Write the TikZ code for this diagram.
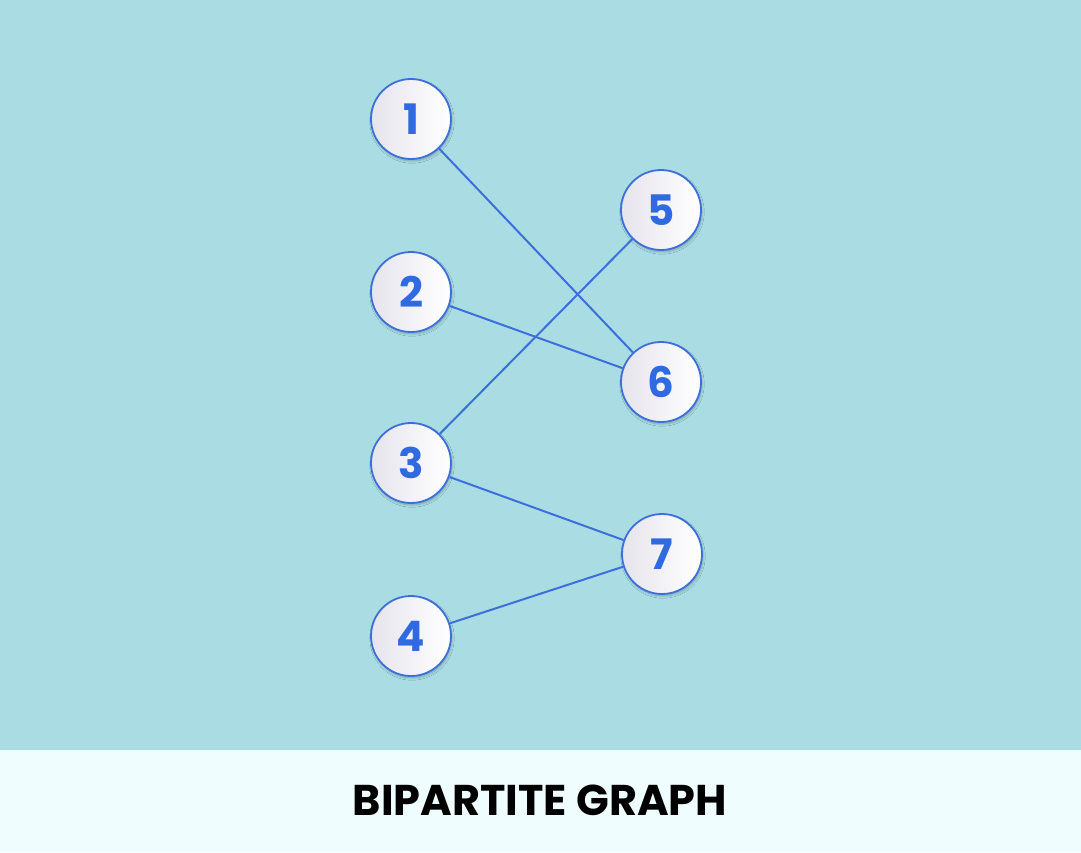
\documentclass[tikz,border=0pt]{standalone}
\usepackage{fontspec}
\setmainfont{Poppins}[BoldFont={* Bold}]
\usetikzlibrary{shadows.blur}
\definecolor{bgteal}{HTML}{AADCE3}
\definecolor{bandc}{HTML}{F0FDFE}
\definecolor{edgeblue}{HTML}{3D6FDC}
\definecolor{numblue}{HTML}{2F6AE0}
\definecolor{nodel}{HTML}{E6E4EC}
\tikzset{
  vert/.style={circle, minimum size=80pt, inner sep=0pt, draw=edgeblue, line width=1.8pt,
    left color=nodel, right color=white, text=numblue,
    font=\fontsize{42}{46}\selectfont\bfseries,
    blur shadow={shadow xshift=1pt, shadow yshift=-2pt, shadow blur steps=6, shadow opacity=25}},
  link/.style={draw=edgeblue, line width=2pt}
}
\begin{document}
\begin{tikzpicture}[x=1pt,y=-1pt]
\fill[bgteal] (0,0) rectangle (1081,750);
\fill[bandc] (0,750) rectangle (1081,852);
\useasboundingbox (0,0) rectangle (1081,852);
\node[vert] (n1) at (411,119) {1};
\node[vert] (n2) at (411,292) {2};
\node[vert] (n3) at (411,463) {3};
\node[vert] (n4) at (411,636) {4};
\node[vert] (n5) at (661,210) {5};
\node[vert] (n6) at (661,382) {6};
\node[vert] (n7) at (662,554) {7};
\draw[link] (n1) -- (n6);
\draw[link] (n2) -- (n6);
\draw[link] (n5) -- (n3);
\draw[link] (n3) -- (n7);
\draw[link] (n4) -- (n7);
\node (title) at (540,800) {\fontsize{43}{48}\selectfont\bfseries BIPARTITE GRAPH};
\end{tikzpicture}
\end{document}
